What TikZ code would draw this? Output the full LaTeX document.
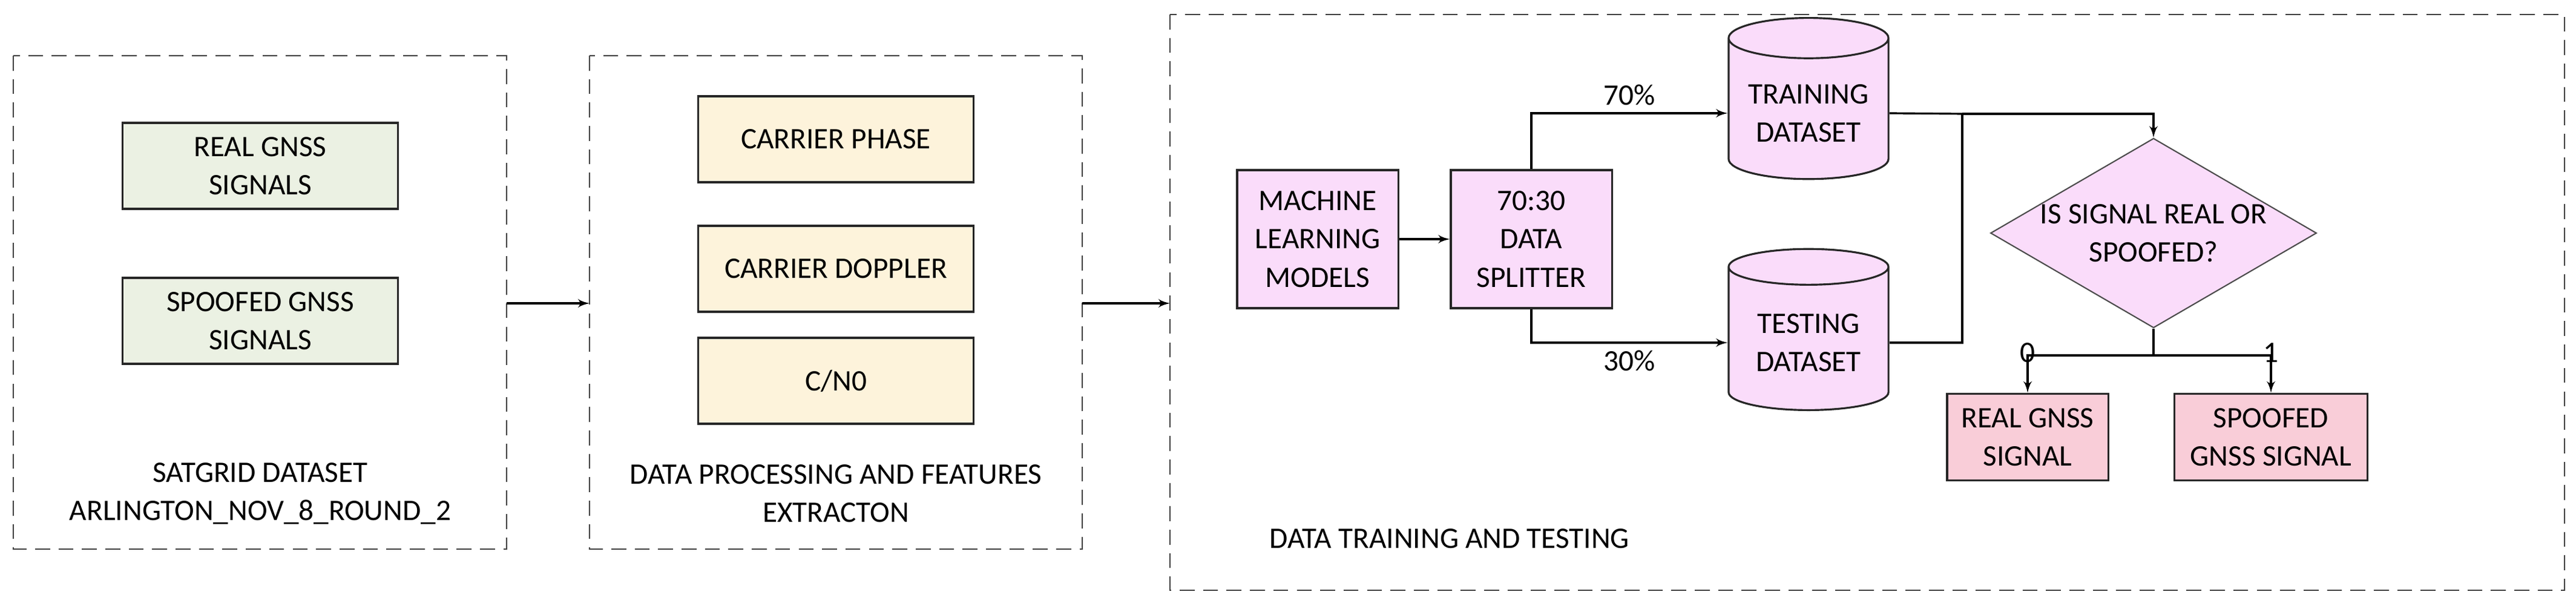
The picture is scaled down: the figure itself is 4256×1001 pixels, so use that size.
\documentclass[tikz,border=0pt]{standalone}
\usepackage{fontspec}
\setmainfont{Carlito}
\usetikzlibrary{arrows,shapes,calc,positioning}
\definecolor{ColorG}{HTML}{EBF1E3}
\definecolor{ColorY}{HTML}{FDF3DB}
\definecolor{ColorP}{HTML}{FADCFA}
\definecolor{ColorR}{HTML}{F9CDD8}

\begin{document}
\begin{tikzpicture}[x=0.01cm,y=-0.01cm,
group/.style={
	draw,
	dash pattern=on 7pt off 4pt,
	line width=0.6pt,
	color = black!75},
box/.style={
	rectangle,
	draw = black!85,
	line width=0.9pt,
	minimum width=3.66cm,
	minimum height=1.42cm,
	align=center,
	font=\fontsize{14}{18}\selectfont},
proc/.style={
	rectangle,
	draw = black!85,
	line width=0.9pt,
	fill = ColorP,
	minimum width=2.66cm,
	minimum height=2.28cm,
	align=center,
	font=\fontsize{14}{18}\selectfont},
db/.style={
	cylinder,
	shape border rotate=90,
	aspect=0.3,
	draw = black!85,
	line width=0.9pt,
	fill = ColorP,
	minimum width=2.64cm,
	minimum height=2.66cm,
	align=center,
	font=\fontsize{14}{18}\selectfont},
post/.style={
	->,
	draw,
	>=latex',
	line width=0.9pt},
label/.style={
	align=center,
	font=\fontsize{14}{18}\selectfont}]

\useasboundingbox (0,0) rectangle (4256,1001);

%Groups
\draw[group] (22,92) rectangle (837,907);
\draw[group] (974,92) rectangle (1788,907);
\draw[group] (1933,24) rectangle (4237,975);

\node[label] (G1) at (430,815) {SATGRID DATASET\\ARLINGTON\_NOV\_8\_ROUND\_2};
\node[label] (G2) at (1381,815) {DATA PROCESSING AND FEATURES\\EXTRACTON};
\node[label, anchor = west] (G3) at (2085,890) {DATA TRAINING AND TESTING};

%Dataset
\node[box, fill = ColorG, minimum width=4.55cm] (Real) at (430,274) {REAL GNSS\\SIGNALS};
\node[box, fill = ColorG, minimum width=4.55cm] (Spoof) at (430,530) {SPOOFED GNSS\\SIGNALS};

%Features
\node[box, fill = ColorY, minimum width=4.55cm] (Phase) at (1381,230) {CARRIER PHASE};
\node[box, fill = ColorY, minimum width=4.55cm] (Doppler) at (1381,444) {CARRIER DOPPLER};
\node[box, fill = ColorY, minimum width=4.55cm] (CNo) at (1381,629) {C/N0};

\coordinate (A1) at (837,501);
\coordinate (B1) at (974,501);
\coordinate (A2) at (1788,501);
\coordinate (B2) at (1933,501);
\path[post] (A1) -- (B1);
\path[post] (A2) -- (B2);

%Training
\node[proc] (ML) at (2177,395) {MACHINE\\LEARNING\\MODELS};
\node[proc] (Split) at (2530,395) {70:30\\DATA\\SPLITTER};
\node[db] (Train) at (2988,187) {TRAINING\\DATASET};
\node[db] (Test) at (2988,566) {TESTING\\DATASET};
\node[diamond, draw = black!70, line width=0.6pt, fill = ColorP, aspect=1.72,
	minimum width=5.22cm, minimum height=3.03cm, inner sep=0pt,
	align=center, font=\fontsize{14}{18}\selectfont] (Ask) at (3558,385) {IS SIGNAL REAL OR\\SPOOFED?};
\node[proc, fill = ColorR, minimum height=1.43cm] (RealOut) at (3350,722) {REAL GNSS\\SIGNAL};
\node[proc, fill = ColorR, minimum width=3.19cm, minimum height=1.43cm] (SpoofOut) at (3752,722) {SPOOFED\\GNSS SIGNAL};

\coordinate (J) at (3242,188);
\coordinate (Br) at (3558,587);

\path[post] (ML) -- (Split);
\path[post] (Split.north) |- node[label, pos=0.75, above] {70\%} (Train.west);
\path[post] (Split.south) |- node[label, pos=0.75, below] {30\%} (Test.west);
\draw[line width=0.9pt] (Train.east) -- (J);
\draw[line width=0.9pt] (Test.east) -| (J);
\path[post] (J) -| (Ask.north);
\draw[line width=0.9pt] (Ask.south) -- (Br);
\path[post] (Br) -| node[label, pos=0.7, above] {0} (RealOut.north);
\path[post] (Br) -| node[label, pos=0.7, above] {1} (SpoofOut.north);
\end{tikzpicture}
\end{document}
